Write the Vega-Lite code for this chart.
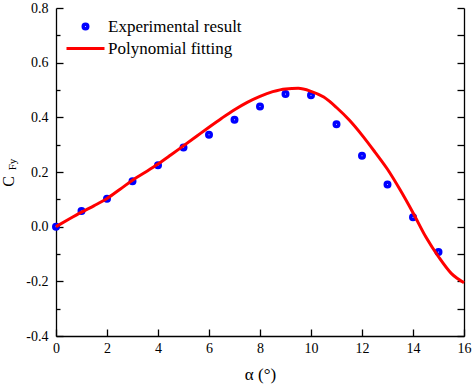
{
  "$schema": "https://vega.github.io/schema/vega-lite/v6.json",
  "width": 408,
  "height": 328,
  "autosize": {"type": "none"},
  "padding": {"left": 56, "top": 8, "right": 10, "bottom": 51},
  "background": "white",
  "config": {
    "view": {"stroke": null},
    "font": "Liberation Serif",
    "axis": {
      "grid": false,
      "domainColor": "black",
      "tickColor": "black",
      "labelColor": "black",
      "titleColor": "black",
      "labelFont": "Liberation Serif",
      "titleFont": "Liberation Serif",
      "labelFontSize": 14,
      "titleFontSize": 17,
      "titleFontWeight": "normal",
      "domainWidth": 1.3,
      "tickWidth": 1.3
    },
    "legend": {
      "labelFont": "Liberation Serif",
      "labelFontSize": 17,
      "labelColor": "black",
      "symbolStrokeWidth": 3
    }
  },
  "datasets": {
    "measured": [
      {"alpha": 0, "cfy": 0.0, "series": "Experimental result"},
      {"alpha": 1, "cfy": 0.057, "series": "Experimental result"},
      {"alpha": 2, "cfy": 0.102, "series": "Experimental result"},
      {"alpha": 3, "cfy": 0.166, "series": "Experimental result"},
      {"alpha": 4, "cfy": 0.225, "series": "Experimental result"},
      {"alpha": 5, "cfy": 0.29, "series": "Experimental result"},
      {"alpha": 6, "cfy": 0.336, "series": "Experimental result"},
      {"alpha": 7, "cfy": 0.391, "series": "Experimental result"},
      {"alpha": 8, "cfy": 0.44, "series": "Experimental result"},
      {"alpha": 9, "cfy": 0.485, "series": "Experimental result"},
      {"alpha": 10, "cfy": 0.481, "series": "Experimental result"},
      {"alpha": 11, "cfy": 0.375, "series": "Experimental result"},
      {"alpha": 12, "cfy": 0.259, "series": "Experimental result"},
      {"alpha": 13, "cfy": 0.154, "series": "Experimental result"},
      {"alpha": 14, "cfy": 0.034, "series": "Experimental result"},
      {"alpha": 15, "cfy": -0.093, "series": "Experimental result"}
    ],
    "fit": [
      {"alpha": 0, "cfy": 0.0, "series": "Polynomial fitting"},
      {"alpha": 0.5, "cfy": 0.027, "series": "Polynomial fitting"},
      {"alpha": 1, "cfy": 0.053, "series": "Polynomial fitting"},
      {"alpha": 1.5, "cfy": 0.077, "series": "Polynomial fitting"},
      {"alpha": 2, "cfy": 0.103, "series": "Polynomial fitting"},
      {"alpha": 2.5, "cfy": 0.136, "series": "Polynomial fitting"},
      {"alpha": 3, "cfy": 0.17, "series": "Polynomial fitting"},
      {"alpha": 3.5, "cfy": 0.199, "series": "Polynomial fitting"},
      {"alpha": 4, "cfy": 0.229, "series": "Polynomial fitting"},
      {"alpha": 4.5, "cfy": 0.262, "series": "Polynomial fitting"},
      {"alpha": 5, "cfy": 0.296, "series": "Polynomial fitting"},
      {"alpha": 5.5, "cfy": 0.33, "series": "Polynomial fitting"},
      {"alpha": 6, "cfy": 0.364, "series": "Polynomial fitting"},
      {"alpha": 6.5, "cfy": 0.397, "series": "Polynomial fitting"},
      {"alpha": 7, "cfy": 0.428, "series": "Polynomial fitting"},
      {"alpha": 7.5, "cfy": 0.455, "series": "Polynomial fitting"},
      {"alpha": 8, "cfy": 0.477, "series": "Polynomial fitting"},
      {"alpha": 8.5, "cfy": 0.494, "series": "Polynomial fitting"},
      {"alpha": 9, "cfy": 0.504, "series": "Polynomial fitting"},
      {"alpha": 9.5, "cfy": 0.506, "series": "Polynomial fitting"},
      {"alpha": 10, "cfy": 0.495, "series": "Polynomial fitting"},
      {"alpha": 10.5, "cfy": 0.474, "series": "Polynomial fitting"},
      {"alpha": 11, "cfy": 0.436, "series": "Polynomial fitting"},
      {"alpha": 11.5, "cfy": 0.39, "series": "Polynomial fitting"},
      {"alpha": 12, "cfy": 0.335, "series": "Polynomial fitting"},
      {"alpha": 12.5, "cfy": 0.274, "series": "Polynomial fitting"},
      {"alpha": 13, "cfy": 0.21, "series": "Polynomial fitting"},
      {"alpha": 13.5, "cfy": 0.134, "series": "Polynomial fitting"},
      {"alpha": 14, "cfy": 0.051, "series": "Polynomial fitting"},
      {"alpha": 14.5, "cfy": -0.037, "series": "Polynomial fitting"},
      {"alpha": 15, "cfy": -0.11, "series": "Polynomial fitting"},
      {"alpha": 15.5, "cfy": -0.171, "series": "Polynomial fitting"},
      {"alpha": 16, "cfy": -0.205, "series": "Polynomial fitting"}
    ]
  },
  "layer": [
    {
      "data": {"name": "measured"},
      "mark": {"type": "point", "filled": false, "size": 256, "strokeWidth": 3, "opacity": 1},
      "encoding": {
        "x": {
          "field": "alpha",
          "type": "quantitative",
          "scale": {"domain": [0, 16], "nice": false},
          "axis": {
            "orient": "bottom",
            "values": [0, 1, 2, 3, 4, 5, 6, 7, 8, 9, 10, 11, 12, 13, 14, 15, 16],
            "labelExpr": "datum.value % 2 === 0 ? datum.label : ''",
            "tickSize": {"condition": {"test": "datum.value % 2 !== 0", "value": -4}, "value": -7},
            "labelPadding": 12,
            "labelFlush": false,
            "title": "α (°)",
            "titlePadding": 11
          }
        },
        "y": {
          "field": "cfy",
          "type": "quantitative",
          "scale": {"domain": [-0.4, 0.8], "nice": false, "zero": false},
          "axis": {
            "orient": "left",
            "values": [-0.4, -0.3, -0.2, -0.1, 0, 0.1, 0.2, 0.3, 0.4, 0.5, 0.6, 0.7, 0.8],
            "labelExpr": "abs(round(datum.value*10)) % 2 === 0 ? replace(format(datum.value, '.1f'), '−', '-') : ''",
            "tickSize": {"condition": {"test": "abs(round(datum.value*10)) % 2 === 1", "value": -4}, "value": -7},
            "labelPadding": 15,
            "labelFlush": false,
            "title": "C",
            "titleFontSize": 16,
            "titleAngle": -90,
            "titleBaseline": "alphabetic",
            "titleX": -43,
            "titleY": 173
          }
        },
        "color": {
          "field": "series",
          "type": "nominal",
          "scale": {"domain": ["Experimental result", "Polynomial fitting"], "range": ["#0000ff", "#ff0000"]},
          "legend": {
            "title": null,
            "orient": "none",
            "legendX": 20,
            "legendY": 9,
            "symbolSize": 256,
            "symbolStrokeWidth": 3,
            "labelOffset": 13,
            "rowPadding": 4
          }
        },
        "shape": {
          "field": "series",
          "type": "nominal",
          "scale": {
            "domain": ["Experimental result", "Polynomial fitting"],
            "range": [
              "M-0.3125,0A0.3125,0.3125,0,1,0,0.3125,0A0.3125,0.3125,0,1,0,-0.3125,0ZM-0.125,0A0.125,0.125,0,1,0,0.125,0A0.125,0.125,0,1,0,-0.125,0Z",
              "M-2.375,0H2.375"
            ]
          },
          "legend": {
            "title": null,
            "orient": "none",
            "legendX": 20,
            "legendY": 9,
            "symbolSize": 256,
            "symbolStrokeWidth": 3,
            "labelOffset": 13,
            "rowPadding": 4
          }
        }
      }
    },
    {
      "data": {"name": "fit"},
      "mark": {"type": "line", "strokeWidth": 3, "interpolate": "monotone"},
      "encoding": {
        "x": {"field": "alpha", "type": "quantitative"},
        "y": {
          "field": "cfy",
          "type": "quantitative",
          "axis": {
            "orient": "right",
            "values": [-0.4, -0.3, -0.2, -0.1, 0, 0.1, 0.2, 0.3, 0.4, 0.5, 0.6, 0.7, 0.8],
            "labels": false,
            "tickSize": -7,
            "title": null
          }
        },
        "color": {"field": "series", "type": "nominal", "legend": null}
      }
    },
    {
      "data": {"name": "measured"},
      "mark": {"type": "point", "opacity": 0},
      "encoding": {
        "x": {"field": "alpha", "type": "quantitative"},
        "y": {
          "field": "cfy",
          "type": "quantitative",
          "axis": {
            "orient": "left",
            "labels": false,
            "ticks": false,
            "domain": false,
            "title": "Fy",
            "titleFontSize": 11,
            "titleAngle": -90,
            "titleBaseline": "alphabetic",
            "titleX": -40.5,
            "titleY": 156
          }
        }
      }
    }
  ],
  "resolve": {"axis": {"y": "independent"}}
}
